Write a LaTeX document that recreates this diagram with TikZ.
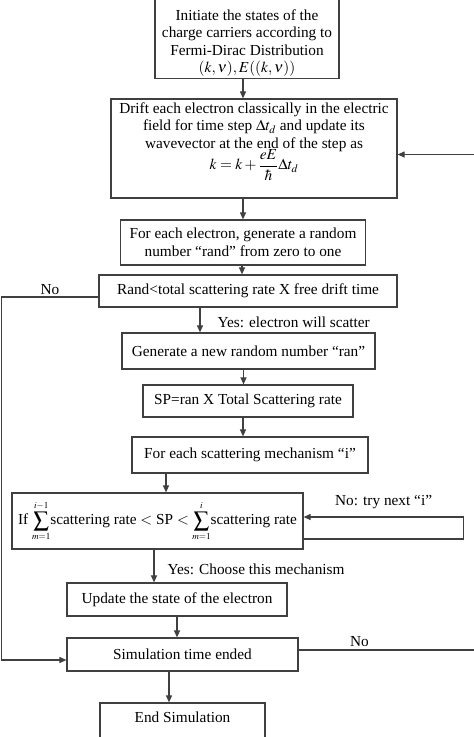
\documentclass[tikz,border=0pt]{standalone}
\usepackage{mathptmx}
\usepackage{fontspec}
\setmainfont{Liberation Serif}
\usepackage{amsmath}
\usetikzlibrary{positioning,arrows.meta}
\tikzset{
  stepbox/.style={draw=black!75, line width=1.2pt, fill=white, align=center,
                  inner sep=2pt, font=\fontsize{15.3}{17.5}\selectfont},
  flow/.style={-{Triangle[length=7pt,width=6pt]}, line width=1.1pt, black!75},
  lbl/.style={font=\fontsize{15.3}{17.5}\selectfont, text=black, inner sep=1pt},
}
\newcommand{\ssum}[2]{\displaystyle\sum_{\scriptscriptstyle #1}^{\scriptscriptstyle #2}}

\begin{document}
\begin{tikzpicture}[x=1pt, y=-1pt]
  \useasboundingbox (0,0) rectangle (474,737);

  % Boxes
  \node[stepbox, minimum width=184pt, minimum height=82pt] (init) at (247,36)
    {\rule{0pt}{25pt}Initiate the states of the\\charge carriers according to\\Fermi-Dirac Distribution\\$(k,\nu),E((k,\nu))$};
  \node[stepbox, minimum width=286pt, minimum height=99pt] (drift) at (254,148.5)
    {Drift each electron classically in the electric\\field for time step $\Delta t_d$ and update its\\wavevector at the end of the step as\\[-3pt]
     $k=k+\dfrac{eE}{\hbar}\Delta t_d\rule[-25pt]{0pt}{0pt}$};
  \node[stepbox, minimum width=245pt, minimum height=45pt] (each) at (243,242.5)
    {For each electron, generate a random\\number ``rand'' from zero to one};
  \node[stepbox, minimum width=298pt, minimum height=32pt] (rand) at (248,291)
    {Rand<total scattering rate X free drift time};
  \node[stepbox, minimum width=253pt, minimum height=36pt] (gen) at (248.5,351)
    {Generate a new random number ``ran''};
  \node[stepbox, minimum width=210pt, minimum height=32pt] (sp) at (248,401)
    {SP=ran X Total Scattering rate};
  \node[stepbox, minimum width=236pt, minimum height=36pt] (mech) at (250,455)
    {For each scattering mechanism ``i''};
  \node[stepbox, minimum width=291pt, minimum height=56pt] (pick) at (157.5,521)
    {If $\ssum{m=1}{i-1}$scattering rate $<$ SP $<\ssum{m=1}{i}$scattering rate};
  \node[stepbox, minimum width=220pt, minimum height=33pt] (upd) at (177,599.5)
    {Update the state of the electron};
  \node[stepbox, minimum width=231pt, minimum height=33pt] (simt) at (182.5,654.5)
    {Simulation time ended};
  \node[stepbox, minimum width=165pt, text height=17pt, text depth=21pt] (fin) at (182.5,724)
    {End Simulation};

  % Main flow
  \draw[flow] ([xshift=-4pt]init.south) -- ([xshift=-4pt]init.south |- drift.north);
  \draw[flow] (each.north |- drift.south) -- (each.north);
  \draw[flow] ([xshift=-1pt]each.south) -- ([xshift=-1pt]each.south |- rand.north);
  \draw[flow] ([xshift=-48pt]rand.south) -- ([xshift=-48pt]rand.south |- gen.north)
    node[lbl, anchor=west] at (216,322) {Yes: electron will scatter};
  \draw[flow] ([xshift=-5pt]gen.south) -- ([xshift=-5pt]gen.south |- sp.north);
  \draw[flow] ([xshift=-5pt]sp.south) -- ([xshift=-5pt]sp.south |- mech.north);
  \draw[flow] ([xshift=8.5pt]pick.north |- mech.south) -- ([xshift=8.5pt]pick.north);
  \draw[flow] ([xshift=-3.5pt]pick.south) -- ([xshift=-3.5pt]pick.south |- upd.north)
    node[lbl, anchor=west] at (166,569) {Yes: Choose this mechanism};
  \draw[flow] (upd.south) -- (upd.south |- simt.north);
  \draw[flow] ([xshift=-13.5pt]simt.south) -- ([xshift=-13.5pt]simt.south |- fin.north);

  % Loops
  \draw[flow] ([yshift=-18pt]pick.east) -- ++(160,0) |- node[lbl, pos=0.75, above=7pt] {No: try next ``i''}
    ([yshift=4pt]pick.east);
  \draw[flow] ([yshift=-6pt]rand.west) -- node[lbl, above=1pt] {No} ++(-97,0) |- ([yshift=-5.5pt]simt.west);
  \draw[flow] ([yshift=4.5pt]simt.east) -- node[lbl, pos=0.32, above=2pt] {No} ++(190,0) |- ([yshift=-6pt]drift.east);

\end{tikzpicture}
\end{document}
